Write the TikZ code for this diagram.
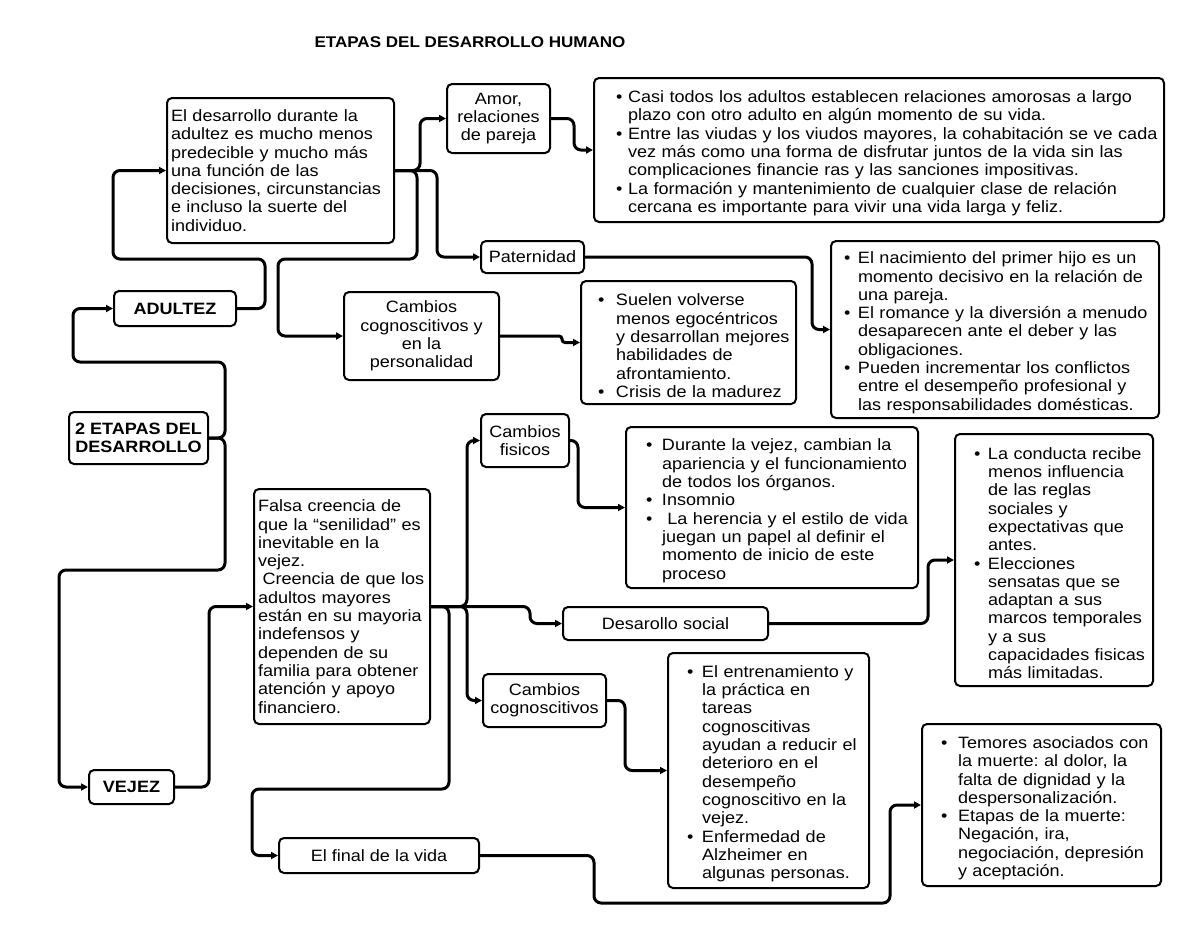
\documentclass[tikz,border=0pt]{standalone}
\usepackage{fontspec}
\setmainfont{Liberation Sans}[FakeStretch=1.1]
\usetikzlibrary{arrows.meta}
\frenchspacing
\newcommand{\mapfont}{\fontsize{16.4}{18.3}\selectfont}
\newlength{\bhang}
\newcommand{\lstmargin}[2]{\leftskip=#1\relax\bhang=#2\relax\rightskip=-80pt plus 1fil\relax}
\newcommand{\bitem}{\par\hangindent=\bhang\hangafter=1\noindent\hbox to \bhang{\textbullet\hfil}}

\begin{document}
\begin{tikzpicture}[x=1pt, y=-1pt, font=\mapfont,
  bx/.style={draw, line width=2pt, rounded corners=5pt, anchor=north west, inner sep=0pt, align=center},
  lst/.style={bx, align=left},
  hd/.style={bx, font=\mapfont\bfseries},
  ar/.style={-{Triangle[length=7pt,width=7pt]}, line width=3pt, rounded corners=7pt}]
\useasboundingbox[fill=white] (0,0) rectangle (1200,927);

\node[font=\fontsize{15.5}{18}\selectfont\bfseries] (title) at (470,42) {ETAPAS DEL DESARROLLO HUMANO};

% etapas
\node[hd, minimum width=139pt, minimum height=52pt] (etapas) at (68,411) {2 ETAPAS DEL\\DESARROLLO};
\node[hd, minimum width=122pt, minimum height=35pt] (adultez) at (113,290) {ADULTEZ};
\node[hd, minimum width=85pt, minimum height=34pt] (vejez) at (88,769) {VEJEZ};

% adultez
\node[lst, text width=227pt, minimum height=145pt] (adesc) at (166,97) {\lstmargin{4pt}{0pt}El desarrollo durante la\\adultez es mucho menos\\predecible y mucho más\\una función de las\\decisiones, circunstancias\\e incluso la suerte del\\individuo.\par};
\node[bx, minimum width=103pt, minimum height=69pt] (amor) at (446,83) {Amor,\\relaciones\\de pareja};
\node[lst, text width=570pt, minimum height=144pt] (amorl) at (593,77) {\lstmargin{22pt}{12pt}\bitem Casi todos los adultos establecen relaciones amorosas a largo\newline plazo con otro adulto en algún momento de su vida.\bitem Entre las viudas y los viudos mayores, la cohabitación se ve cada\newline vez más como una forma de disfrutar juntos de la vida sin las\newline complicaciones financie ras y las sanciones impositivas.\bitem La formación y mantenimiento de cualquier clase de relación\newline cercana es importante para vivir una vida larga y feliz.\par};
\node[bx, minimum width=103pt, minimum height=32pt] (pat) at (480,240) {Paternidad};
\node[lst, text width=328pt, minimum height=177pt] (patl) at (830,240) {\lstmargin{13pt}{14pt}\bitem El nacimiento del primer hijo es un\newline momento decisivo en la relación de\newline una pareja.\bitem El romance y la diversión a menudo\newline desaparecen ante el deber y las\newline obligaciones.\bitem Pueden incrementar los conflictos\newline entre el desempeño profesional y\newline las responsabilidades domésticas.\par};
\node[bx, minimum width=155pt, minimum height=88pt] (pers) at (343,291) {Cambios\\cognoscitivos y\\en la\\personalidad};
\node[lst, text width=215pt, minimum height=123pt] (persl) at (580,280) {\lstmargin{17pt}{18pt}\bitem Suelen volverse\newline menos egocéntricos\newline y desarrollan mejores\newline habilidades de\newline afrontamiento.\bitem Crisis de la madurez\par};

% vejez
\node[lst, text width=176pt, minimum height=235pt] (falsa) at (253,488) {\lstmargin{4pt}{0pt}Falsa creencia de\\que la “senilidad” es\\inevitable en la\\vejez.\\\hspace*{4.5pt}Creencia de que los\\adultos mayores\\están en su mayoria\\indefensos y\\dependen de su\\familia para obtener\\atención y apoyo\\financiero.\par};
\node[bx, minimum width=88pt, minimum height=53pt] (fis) at (480,413) {Cambios\\fisicos};
\node[lst, text width=292pt, minimum height=161pt] (fisl) at (625,426) {\lstmargin{20pt}{16pt}\bitem Durante la vejez, cambian la\newline apariencia y el funcionamiento\newline de todos los órganos.\bitem Insomnio\bitem\ La herencia y el estilo de vida\newline juegan un papel al definir el\newline momento de inicio de este\newline proceso\par};
\node[bx, minimum width=205pt, minimum height=33pt] (soc) at (562,606) {Desarollo social};
\node[lst, text width=198pt, minimum height=252pt] (socl) at (954,433) {\lstmargin{19pt}{14pt}\bitem La conducta recibe\newline menos influencia\newline de las reglas\newline sociales y\newline expectativas que\newline antes.\bitem Elecciones\newline sensatas que se\newline adaptan a sus\newline marcos temporales\newline y a sus\newline capacidades fisicas\newline más limitadas.\par};
\node[bx, minimum width=123pt, minimum height=53pt] (cog) at (482,673) {Cambios\\cognoscitivos};
\node[lst, text width=201pt, minimum height=235pt] (cogl) at (667,652) {\lstmargin{19pt}{15pt}\bitem El entrenamiento y\newline la práctica en\newline tareas\newline cognoscitivas\newline ayudan a reducir el\newline deterioro en el\newline desempeño\newline cognoscitivo en la\newline vejez.\bitem Enfermedad de\newline Alzheimer en\newline algunas personas.\par};
\node[bx, minimum width=200pt, minimum height=35pt] (fin) at (278,837) {El final de la vida};
\node[lst, text width=239pt, minimum height=162pt] (finl) at (921,723) {\lstmargin{19pt}{17pt}\bitem Temores asociados con\newline la muerte: al dolor, la\newline falta de dignidad y la\newline despersonalización.\bitem Etapas de la muerte:\newline Negación, ira,\newline negociación, depresión\newline y aceptación.\par};

% conectores
\draw[ar] (etapas.east) -- ++(16,0) |- (73,362) |- (adultez.west);
\draw[ar] (etapas.east) -- ++(16,0) |- (59,570) |- (vejez.west);
\draw[ar] (adultez.east) -- ++(28,0) |- (113,259) |- (adesc.west);
\draw[ar] (adesc.east) -- ++(25,0) |- (amor.west);
\draw[ar] (adesc.east) -- ++(42,0) |- (pat.west);
\draw[ar] (adesc.east) -- ++(22,0) |- (278,259) |- (pers.west);
\draw[ar] (amor.east) -- ++(23,0) |- (amorl.west);
\draw[ar] (pat.east) -- ++(227,0) |- (patl.west);
\draw[ar, rounded corners=3pt] (pers.east) -- ++(62,0) |- (persl.west);
\draw[ar] (vejez.east) -- ++(34,0) |- (falsa.west);
\draw[ar] (falsa.east) -- ++(36,0) |- (fis.west);
\draw[ar] (falsa.east) -- ++(99,0) |- (soc.west);
\draw[ar] (falsa.east) -- ++(36,0) |- (cog.west);
\draw[ar] (falsa.east) -- ++(18,0) |- (252,789) |- (fin.west);
\draw[ar] (fis.east) -- ++(8,0) |- (fisl.west);
\draw[ar] (soc.east) -- ++(159,0) |- (socl.west);
\draw[ar] (cog.east) -- ++(18,0) |- (cogl.west);
\draw[ar] (fin.east) -- ++(114,0) |- (890,903) |- (finl.west);
\end{tikzpicture}
\end{document}
